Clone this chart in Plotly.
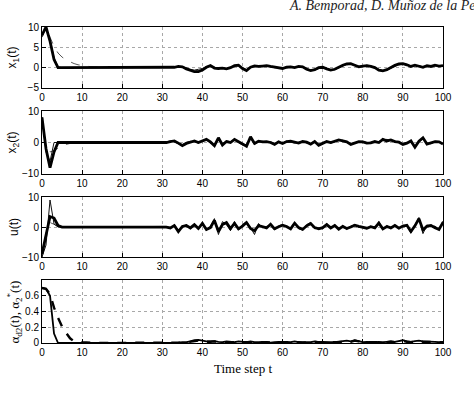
import plotly.graph_objects as go

# ---------------- data ----------------
t = list(range(101))
x_ticks = [0, 10, 20, 30, 40, 50, 60, 70, 80, 90, 100]

x1_thick = [8, 10, 6.5, 2, 0, 0, 0, 0, 0, 0,
            0, 0, 0, 0, 0, 0, 0, 0, 0, 0,
            0, 0, 0, 0, 0, 0, 0, 0, 0, 0,
            0, 0, 0, 0.1, 0.3, 0.2, -0.3, -0.7, -1.0, -1.0,
            -0.6, 0.1, 0.5, -0.1, -0.2, -0.1, -0.3, 0.0, 0.5, 0.6,
            -0.2, -0.7, 0.1, 0.4, 0.3, 0.4, 0.5, 0.3, 0.1, -0.1,
            -0.2, 0.1, 0.2, 0.0, 0.3, 0.2, -0.4, -0.7, -0.5, 0.0,
            0.1, -0.3, -0.6, -0.4, 0.2, 0.6, 0.9, 1.0, 0.6, 0.2,
            0.4, 0.5, 0.3, 0.0, -0.6, -0.8, -0.5, 0.1, 0.6, 0.9,
            1.0, 0.7, 0.3, 0.6, 0.4, 0.1, 0.5, 0.3, 0.6, 0.4,
            0.5]
x1_thin = [7.5, 10, 7, 2.5, 0.2, 0, 0, 0, 0, 0,
           0, 0, 0, 0, 0, 0, 0, 0, 0, 0,
           0, 0, 0, 0, 0, 0, 0, 0, 0, 0,
           0, 0, 0.05, 0.15, 0.2, 0.1, -0.1, -0.4, -0.6, -0.4,
           -0.2, 0.3, 0.4, -0.2, -0.3, 0.0, -0.2, 0.1, 0.4, 0.5,
           0.0, -0.5, 0.2, 0.3, 0.4, 0.3, 0.4, 0.2, 0.0, 0.0,
           -0.1, 0.0, 0.3, 0.1, 0.2, 0.3, -0.2, -0.6, -0.6, -0.1,
           0.2, -0.2, -0.5, -0.5, 0.0, 0.4, 0.8, 0.9, 0.7, 0.3,
           0.3, 0.6, 0.4, 0.1, -0.4, -0.7, -0.6, -0.1, 0.4, 0.7,
           0.9, 0.8, 0.4, 0.4, 0.5, 0.2, 0.3, 0.4, 0.5, 0.5,
           0.3]
x1_dash = [8, 10, 7.5, 5.2, 3.6, 2.6, 1.9, 1.4, 1.0, 0.7,
           0.5, 0.35, 0.25, 0.17, 0.1, 0.06, 0.03, 0.02, 0.01, 0,
           0, 0, 0, 0, 0, 0, 0, 0, 0, 0,
           0, 0, 0, 0.05, 0.2, 0.25, 0.0, -0.4, -0.7, -0.8,
           -0.5, 0.0, 0.4, 0.1, -0.1, -0.2, -0.2, 0.0, 0.3, 0.5,
           0.1, -0.4, 0.0, 0.3, 0.4, 0.5, 0.4, 0.2, 0.1, -0.2,
           -0.1, 0.2, 0.1, 0.1, 0.2, 0.1, -0.3, -0.5, -0.4, -0.1,
           0.0, -0.1, -0.4, -0.3, 0.1, 0.5, 0.8, 0.8, 0.5, 0.3,
           0.5, 0.4, 0.2, -0.1, -0.5, -0.6, -0.4, 0.0, 0.5, 0.8,
           0.8, 0.6, 0.5, 0.3, 0.2, 0.3, 0.4, 0.2, 0.4, 0.3,
           0.4]

x2_thick = [8, -2, -8, -3, 0, 0, 0, 0, 0, 0,
            0, 0, 0, 0, 0, 0, 0, 0, 0, 0,
            0, 0, 0, 0, 0, 0, 0, 0, 0, 0,
            0, 0, 0.3, 0.5, -0.2, -1.0, -0.3, 0.2, 0.5, 0.0,
            0.4, 1.0, 0.2, -1.0, 1.5, -0.8, 0.3, 0.0, 1.0, 0.3,
            -0.5, -1.2, 1.8, -0.3, 0.4, 0.2, 0.3, 0.0, -0.6, 0.2,
            -0.3, 0.3, 0.4, 0.0, -0.2, 0.3, 0.1, -0.5, 0.3, -0.9,
            -0.2, 0.3, 0.0, 0.4, 0.8, 0.5, 0.2, -0.6, -0.2, 0.3,
            0.2, -0.2, -0.1, 0.3, 0.0, 1.0, 0.5, 0.8, 0.3, 0.1,
            -0.6, -0.2, 0.5, -1.5, 0.4, 1.5, -0.5, -0.2, 0.3, 0.2,
            -0.5]
x2_thin = [8, -3, -6, 0, 0, 0, 0, 0, 0, 0,
           0, 0, 0, 0, 0, 0, 0, 0, 0, 0,
           0, 0, 0, 0, 0, 0, 0, 0, 0, 0,
           0, 0.2, 0.5, 0.2, -0.4, -0.6, 0.1, 0.4, 0.3, -0.2,
           0.6, 0.8, -0.2, -0.6, 1.0, -0.4, 0.5, 0.3, 0.7, 0.0,
           -0.8, -0.6, 1.5, -0.6, 0.2, 0.4, 0.1, 0.2, -0.3, 0.0,
           -0.1, 0.4, 0.2, -0.2, 0.1, 0.4, -0.2, -0.3, 0.5, -0.6,
           0.0, 0.4, -0.2, 0.3, 0.6, 0.7, 0.0, -0.4, 0.0, 0.2,
           0.4, -0.1, 0.1, 0.1, 0.3, 0.7, 1.0, 0.5, 0.5, 0.0,
           -0.4, 0.0, 0.3, -1.0, 0.0, 1.2, -0.2, -0.4, 0.4, 0.3,
           -0.3]
x2_dash = [8, -1.5, -3, -2.6, -1.8, -1.1, -0.6, -0.3, -0.1, 0,
           0, 0, 0, 0, 0, 0, 0, 0, 0, 0,
           0, 0, 0, 0, 0, 0, 0, 0, 0, 0,
           0, 0.1, 0.4, 0.3, -0.2, -0.7, -0.2, 0.3, 0.4, 0.1,
           0.5, 0.9, 0.0, -0.8, 1.2, -0.5, 0.4, 0.2, 0.8, 0.1,
           -0.6, -0.9, 1.6, -0.4, 0.3, 0.3, 0.2, 0.1, -0.4, 0.1,
           -0.2, 0.3, 0.3, -0.1, 0.0, 0.3, 0.0, -0.4, 0.4, -0.7,
           -0.1, 0.3, -0.1, 0.3, 0.7, 0.6, 0.1, -0.5, -0.1, 0.2,
           0.3, -0.1, 0.0, 0.2, 0.2, 0.8, 0.7, 0.6, 0.4, 0.1,
           -0.5, -0.1, 0.4, -1.2, 0.2, 1.3, -0.3, -0.3, 0.3, 0.2,
           -0.4]

u_thick = [-9, -3, 3.5, 3, 0.5, 0, 0, 0, 0, 0,
           0, 0, 0, 0, 0, 0, 0, 0, 0, 0,
           0, 0, 0, 0, 0, 0, 0, 0, 0, 0,
           0, 0, -0.3, 0.5, -1.5, 0.2, 0.5, -0.3, 0.8, -0.5,
           1.2, -0.8, -0.2, 2.2, -1.5, 0.8, 1.5, -0.5, 1.2, -0.6,
           0.3, 1.5, -0.5, -1.2, 0.5, 0.2, -0.3, 0.9, -0.6, 0.1,
           0.6, 0.2, -0.6, 1.3, -0.2, -0.8, 0.4, 1.2, -0.2, -0.6,
           -0.2, 0.8, -0.3, 0.5, -0.7, 0.2, -0.5, 0.0, 0.6, 0.2,
           -0.2, -0.4, 0.1, -0.3, 1.3, -0.6, 0.2, -0.3, 0.5, -0.4,
           0.3, 0.6, -1.5, 0.4, 2.8, -1.0, 0.3, 0.5, -0.2, -0.8,
           1.5]
u_thin = [-10, -6, 9, 1, 0, 0, 0, 0, 0, 0,
          0, 0, 0, 0, 0, 0, 0, 0, 0, 0,
          0, 0, 0, 0, 0, 0, 0, 0, 0, 0,
          0, 0.2, -0.5, 0.8, -1.0, -0.3, 0.8, -0.6, 0.5, -0.8,
          1.6, -1.2, 0.3, 2.8, -2.5, 1.8, 0.8, -1.2, 1.8, -1.0,
          0.8, 1.8, -0.2, -2.5, 1.2, -0.3, 0.2, 0.5, -1.0, 0.4,
          0.8, -0.2, -0.3, 1.5, -0.6, -1.0, 0.8, 1.5, -0.6, -0.3,
          -0.6, 1.2, -0.6, 0.8, -1.0, 0.5, -0.8, 0.3, 0.8, -0.1,
          0.0, -0.6, 0.3, -0.5, 1.8, -0.9, 0.5, -0.6, 0.7, -0.7,
          0.6, 0.2, -2.0, 0.8, 3.2, -2.2, 0.6, 0.2, 0.3, -1.0,
          2.0]
u_dash = [-10, -2, 1.5, 0.8, 0.3, 0.1, 0, 0, 0, 0,
          0, 0, 0, 0, 0, 0, 0, 0, 0, 0,
          0, 0, 0, 0, 0, 0, 0, 0, 0, 0,
          0, 0.1, -0.4, 0.6, -1.2, 0.0, 0.6, -0.4, 0.6, -0.6,
          1.4, -1.0, 0.0, 2.5, -2.0, 1.2, 1.2, -0.8, 1.5, -0.8,
          0.5, 1.6, -0.4, -1.8, 0.8, 0.0, 0.0, 0.7, -0.8, 0.2,
          0.7, 0.0, -0.4, 1.4, -0.4, -0.9, 0.6, 1.3, -0.4, -0.4,
          -0.4, 1.0, -0.4, 0.6, -0.8, 0.3, -0.6, 0.2, 0.7, 0.0,
          -0.1, -0.5, 0.2, -0.4, 1.5, -0.7, 0.3, -0.4, 0.6, -0.5,
          0.4, 0.4, -1.8, 0.6, 3.0, -1.6, 0.4, 0.3, 0.0, -0.9,
          1.8]

alpha_d2 = [0.70, 0.69, 0.60, 0.12, 0.0, 0, 0, 0, 0, 0,
            0, 0, 0, 0, 0, 0, 0, 0, 0, 0,
            0, 0, 0, 0, 0, 0, 0, 0, 0, 0,
            0, 0, 0, 0, 0.005, 0.01, 0.01, 0.02, 0.035, 0.04,
            0.03, 0.02, 0.02, 0.025, 0.015, 0.01, 0.02, 0.015, 0.01, 0.02,
            0.015, 0.01, 0.02, 0.01, 0.01, 0.015, 0.01, 0.005, 0.01, 0.015,
            0.01, 0.015, 0.01, 0.02, 0.01, 0.01, 0.015, 0.01, 0.02, 0.01,
            0.015, 0.01, 0.01, 0.01, 0.015, 0.02, 0.03, 0.02, 0.035, 0.025,
            0.01, 0.015, 0.01, 0.01, 0.015, 0.01, 0.015, 0.02, 0.015, 0.025,
            0.035, 0.02, 0.015, 0.025, 0.03, 0.02, 0.02, 0.015, 0.015, 0.01,
            0.015]
alpha2_star = [0.70, 0.69, 0.62, 0.45, 0.32, 0.21, 0.13, 0.06, 0.02, 0.02,
               0.01, 0.005, 0, 0, 0, 0, 0, 0, 0, 0,
               0, 0, 0, 0, 0, 0, 0, 0, 0, 0,
               0, 0, 0, 0, 0, 0.005, 0.01, 0.015, 0.025, 0.03,
               0.025, 0.015, 0.015, 0.02, 0.01, 0.01, 0.015, 0.01, 0.01, 0.015,
               0.01, 0.01, 0.015, 0.01, 0.005, 0.01, 0.01, 0.005, 0.01, 0.01,
               0.01, 0.01, 0.01, 0.015, 0.01, 0.005, 0.01, 0.01, 0.015, 0.01,
               0.01, 0.01, 0.005, 0.01, 0.01, 0.015, 0.025, 0.015, 0.03, 0.02,
               0.01, 0.01, 0.01, 0.005, 0.01, 0.01, 0.01, 0.015, 0.01, 0.02,
               0.03, 0.015, 0.01, 0.02, 0.025, 0.015, 0.015, 0.01, 0.01, 0.01,
               0.01]

# ---------------- figure ----------------
fig = go.Figure()

domains = [[0.807, 1.0], [0.535, 0.734], [0.272, 0.462], [0.0, 0.199]]

def add(y, axis, width, color, dash="solid"):
    fig.add_trace(go.Scatter(x=t, y=y, mode="lines", xaxis="x" + axis, yaxis="y" + axis,
                             line=dict(color=color, width=width, dash=dash),
                             showlegend=False, hoverinfo="skip"))

add(x1_dash, "", 1.0, "#555555", "dash")
add(x1_thin, "", 1.0, "#111111")
add(x1_thick, "", 2.8, "#000000")
add(x2_dash, "2", 1.0, "#555555", "dash")
add(x2_thin, "2", 1.0, "#111111")
add(x2_thick, "2", 2.8, "#000000")
add(u_dash, "3", 1.0, "#555555", "dash")
add(u_thin, "3", 1.0, "#111111")
add(u_thick, "3", 2.8, "#000000")
add(alpha2_star, "4", 2.4, "#000000", "dash")
add(alpha_d2, "4", 1.8, "#000000")

tickfont = dict(family="Liberation Sans, Arial, sans-serif", size=10, color="black")
common = dict(showline=True, linecolor="black", linewidth=1, mirror=True,
              ticks="inside", ticklen=4, tickcolor="black", tickfont=tickfont,
              showgrid=True, gridcolor="#a8a8a8", griddash="dot", gridwidth=0.8,
              zeroline=False)

yranges = [[-5, 10], [-10, 10], [-10, 10], [0, 0.8]]
yticks = [[-5, 0, 5, 10], [-10, 0, 10], [-10, 0, 10], [0, 0.2, 0.4, 0.6]]
yticktext = [None, None, None, ["0", "0.2", "0.4", "0.6"]]

layout = dict(width=474, height=395, margin=dict(l=42, r=31, t=27, b=52),
              paper_bgcolor="white", plot_bgcolor="white", showlegend=False)
for i in range(4):
    suf = "" if i == 0 else str(i + 1)
    layout["xaxis" + suf] = dict(common, domain=[0, 1], range=[0, 100], tickvals=x_ticks,
                                 anchor="y" + suf)
    yd = dict(common, domain=domains[i], range=yranges[i], tickvals=yticks[i],
              anchor="x" + suf)
    if yticktext[i] is not None:
        yd["ticktext"] = yticktext[i]
    layout["yaxis" + suf] = yd
fig.update_layout(**layout)

labels = ["x<sub>1</sub>(t)", "x<sub>2</sub>(t)", "u(t)",
          "α<sub>d2</sub>(t), α<sub>2</sub><sup>*</sup>(t)"]
lfonts = [dict(family="Liberation Sans, Arial, sans-serif", size=12, color="black")] * 3 + \
         [dict(family="Liberation Serif, Times New Roman, serif", size=13, color="black")]
for i, lab in enumerate(labels):
    suf = "" if i == 0 else str(i + 1)
    fig.add_annotation(text=lab, textangle=-90, xref="paper", yref="y" + suf + " domain",
                       x=-0.07, y=0.5, xanchor="center", yanchor="middle",
                       showarrow=False, font=lfonts[i])

fig.add_annotation(text="Time step t", xref="paper", yref="paper", x=0.5, y=-0.082,
                   xanchor="center", yanchor="middle", showarrow=False,
                   font=dict(family="Liberation Serif, Times New Roman, serif", size=13, color="black"))
fig.add_annotation(text="<i>A. Bemporad, D. Muñoz de la Peña</i>", xref="paper", yref="paper",
                   x=0.611, y=1.068, xanchor="left", yanchor="middle", showarrow=False,
                   font=dict(family="Liberation Serif, Times New Roman, serif", size=14, color="#222222"))

fig.write_html("out.html", config={"displayModeBar": False},
               post_script="document.body.style.margin='0px';")
